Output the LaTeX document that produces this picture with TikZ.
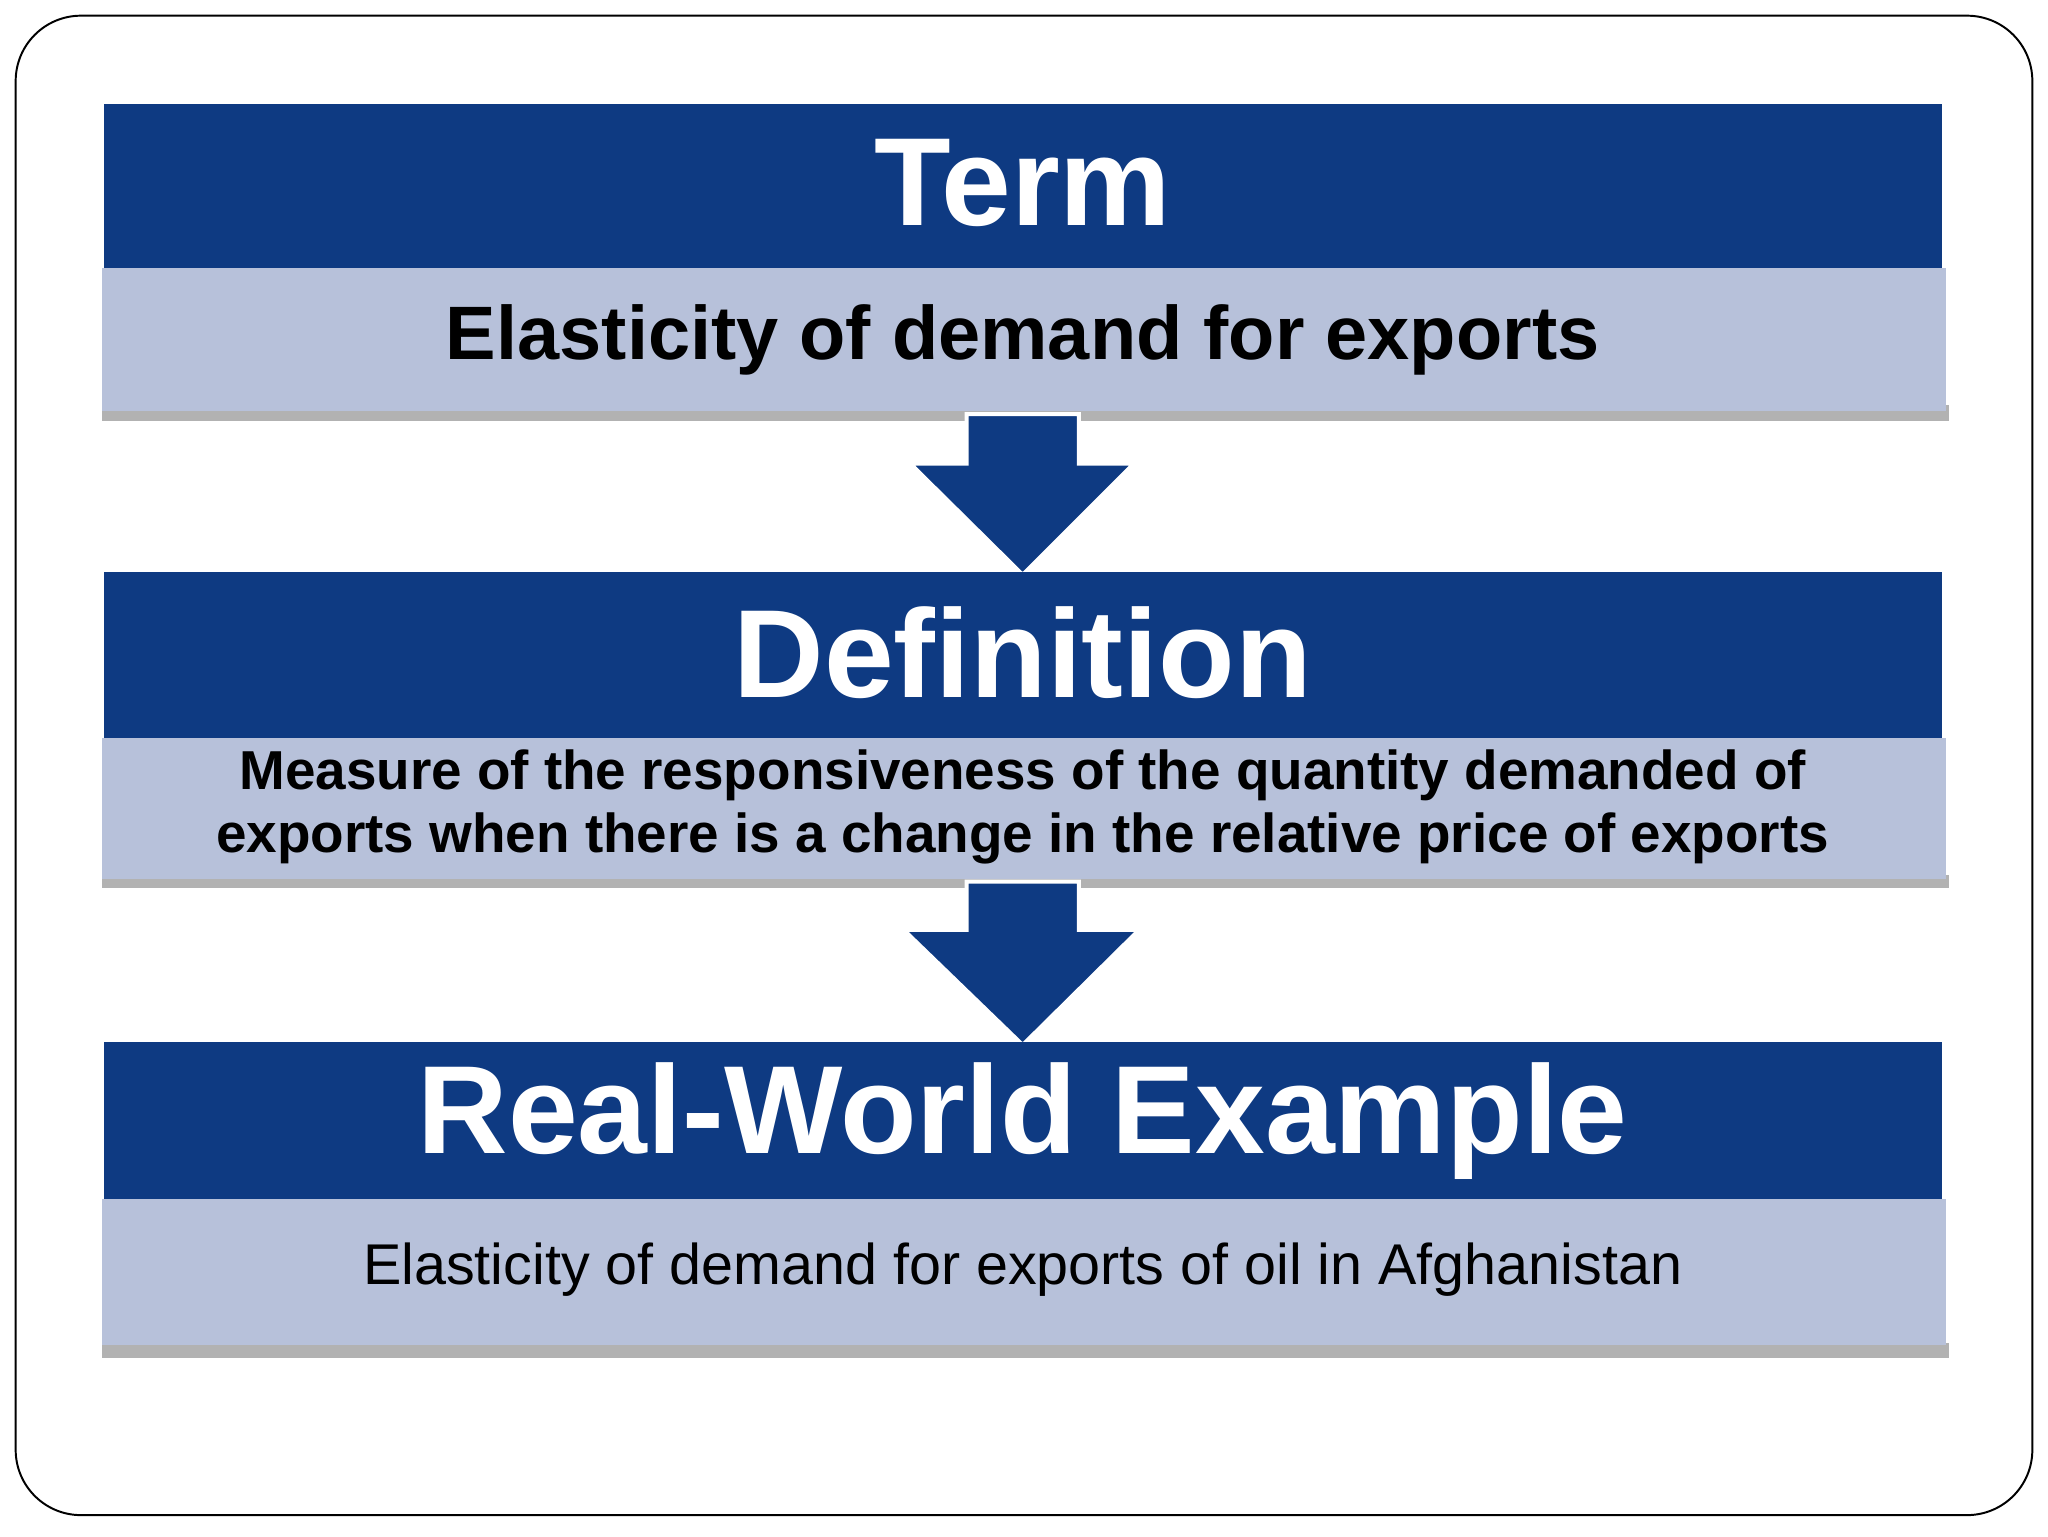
\documentclass[tikz,border=0pt]{standalone}
\usepackage{fontspec}
\setmainfont{Liberation Sans}
\begin{document}
\begin{tikzpicture}[x=1pt,y=-1pt]
\definecolor{hb}{HTML}{0E3A82}
\definecolor{lb}{HTML}{B7C1DA}
\tikzset{
 hdr/.style={fill=hb,draw=none},
 lite/.style={fill=lb,draw=none},
 shad/.style={fill=gray!60,draw=none},
 htxt/.style={text=white,font=\fontsize{96}{100}\selectfont\bfseries},
 arr/.style={fill=hb,draw=white,line width=3pt}}
\useasboundingbox (0,0) rectangle (1568,1176);
\fill[white] (0,0) rectangle (1568,1176);
\draw[line width=1.5pt,rounded corners=50pt] (12,12) rectangle (1556,1160);
% box 1
\fill[shad] (78,310) rectangle (1492,322);
\fill[hdr] (80,80) rectangle (1487,205);
\fill[lite] (78,205) rectangle (1490,315);
\node[htxt] (t1) at (783,140) {Term};
\node[font=\fontsize{58}{62}\selectfont\bfseries] (s1) at (783,260) {Elasticity of demand for exports};
% arrow 1
\coordinate (a1) at (783,440);
\draw[arr] (740,317) -- (826,317) -- (826,355) -- (868,355) -- (a1) -- (697,355) -- (740,355) -- cycle;
% box 2
\fill[shad] (78,670) rectangle (1492,680);
\fill[hdr] (80,438) rectangle (1487,565);
\fill[lite] (78,565) rectangle (1490,673);
\node[htxt] (t2) at (783,500) {Definition};
\node[font=\fontsize{42}{48}\selectfont\bfseries,align=center] (s2) at (783,618) {Measure of the responsiveness of the quantity demanded of\\exports when there is a change in the relative price of exports};
% arrow 2
\coordinate (a2) at (783,800);
\draw[arr] (740,675) -- (826,675) -- (826,712) -- (872,712) -- (a2) -- (692,712) -- (740,712) -- cycle;
% box 3
\fill[shad] (78,1028) rectangle (1492,1040);
\fill[hdr] (80,798) rectangle (1487,918);
\fill[lite] (78,918) rectangle (1490,1030);
\node[htxt] (t3) at (783,858) {Real-World Example};
\node[font=\fontsize{44}{48}\selectfont] (s3) at (783,972) {Elasticity of demand for exports of oil in Afghanistan};
\end{tikzpicture}
\end{document}
